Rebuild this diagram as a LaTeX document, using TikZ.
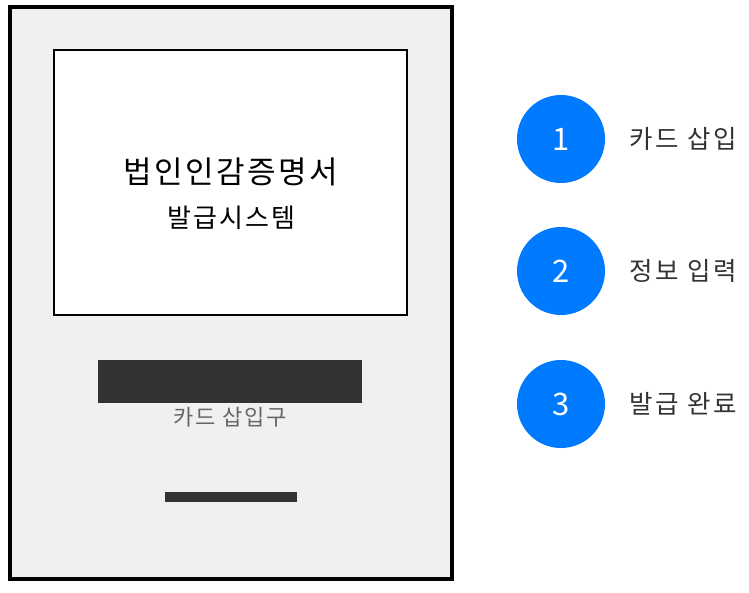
\documentclass[tikz,border=0pt]{standalone}
\usepackage{fontspec}
\setmainfont{Noto Sans CJK KR}
\newfontfamily\widekr[LetterSpace=8]{Noto Sans CJK KR}
\newfontfamily\widerkr[LetterSpace=11]{Noto Sans CJK KR}
\definecolor{panelbg}{HTML}{F0F0F0}
\definecolor{darkslot}{HTML}{333333}
\definecolor{stepblue}{HTML}{007BFF}
\definecolor{labelgray}{HTML}{666666}
\definecolor{labeldark}{HTML}{333333}
\tikzset{
  stepcircle/.style={circle, fill=stepblue, minimum size=88pt, inner sep=0pt, text=white, font=\fontsize{31}{31}\selectfont},
  steplabel/.style={anchor=west, text=labeldark, inner sep=0pt, font=\widerkr\fontsize{25.5}{25.5}\selectfont},
}
\begin{document}
\begin{tikzpicture}[x=1pt,y=-1pt]
\useasboundingbox (0,0) rectangle (749,593);
% kiosk body
\draw[line width=4pt, fill=panelbg] (10,7) rectangle (452,579);
% screen
\draw[line width=2pt, fill=white] (54,50) rectangle (407,315);
\node (title1) at (231,172) {\widekr\fontsize{31}{31}\selectfont 법인인감증명서};
\node (title2) at (231,218) {\widekr\fontsize{26}{26}\selectfont 발급시스템};
% card slot
\fill[darkslot] (98,360) rectangle (362,403);
\node[text=labelgray] (slotlabel) at (230,417) {\widekr\fontsize{22}{22}\selectfont 카드 삽입구};
% bottom bar
\fill[darkslot] (165,492) rectangle (297,502);
% steps
\node[stepcircle] (s1) at (561,139) {1};
\node[stepcircle] (s2) at (561,271) {2};
\node[stepcircle] (s3) at (561,404) {3};
\node[steplabel] (l1) at (629,139) {카드 삽입};
\node[steplabel] (l2) at (629,271) {정보 입력};
\node[steplabel] (l3) at (629,404) {발급 완료};
\end{tikzpicture}
\end{document}
